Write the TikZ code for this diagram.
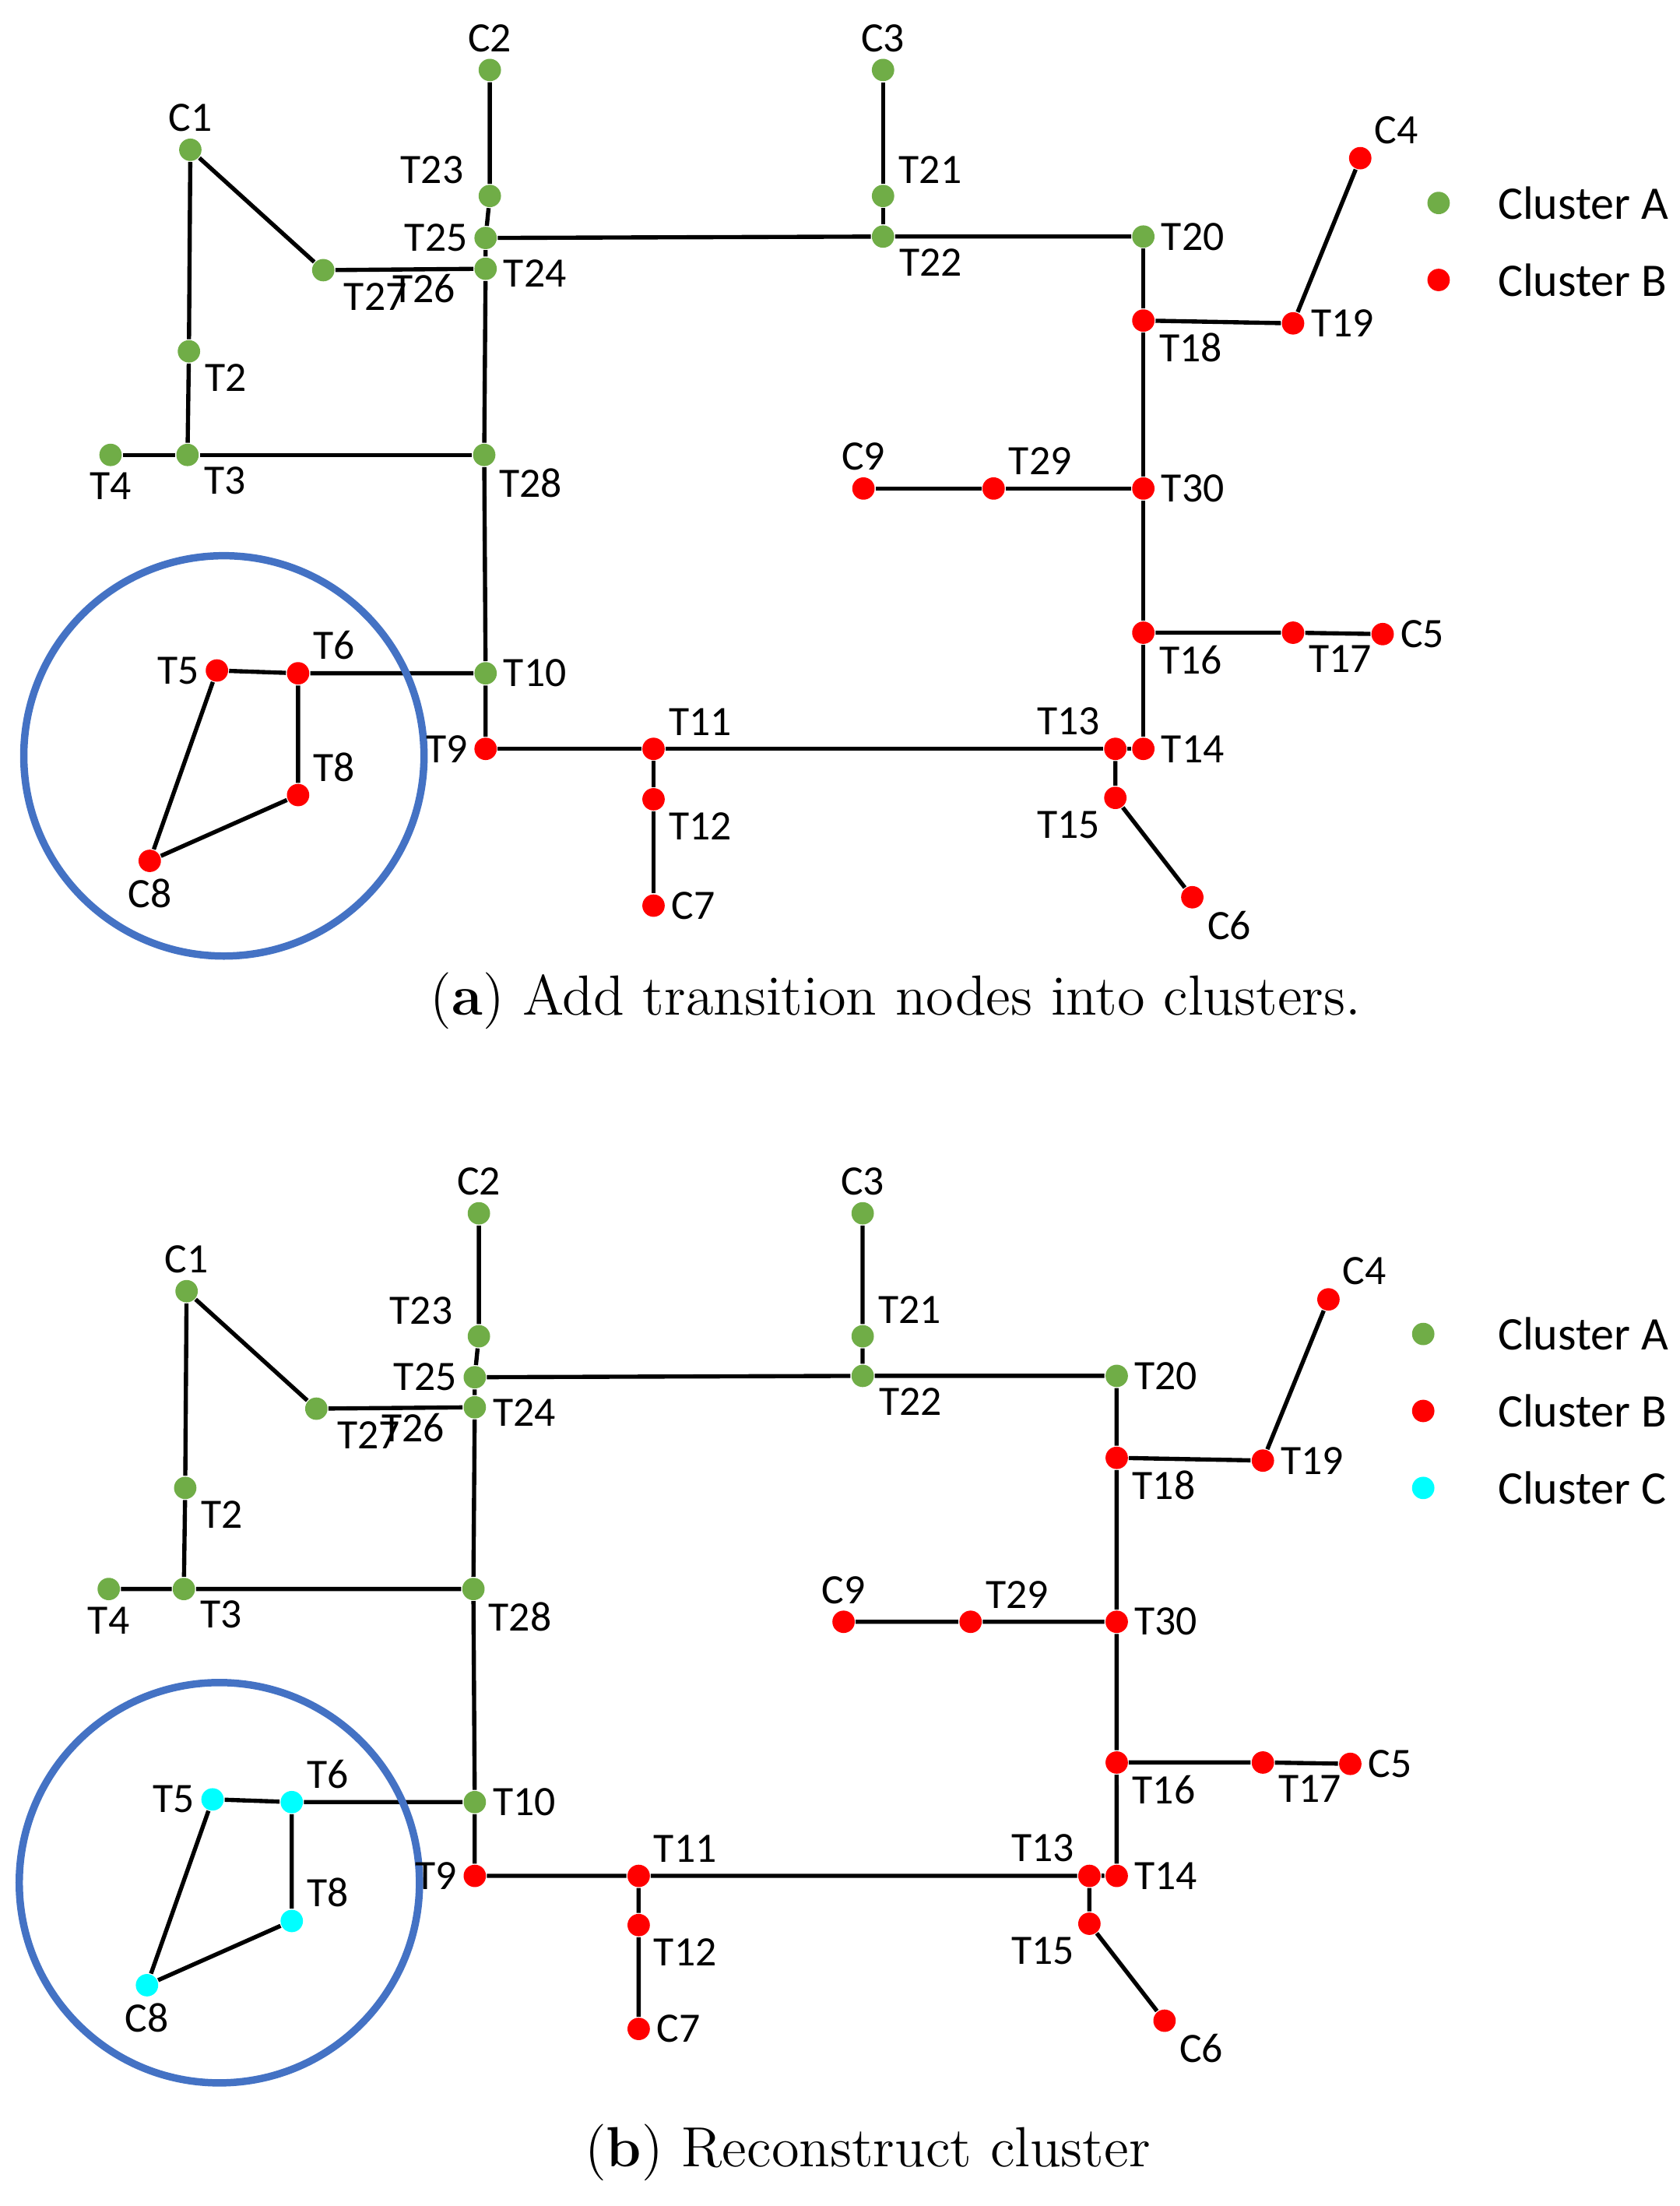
\documentclass[tikz,border=0pt]{standalone}
\usepackage{fontspec}
\newfontfamily\lblfont{Carlito}
\usetikzlibrary{backgrounds}
\definecolor{clA}{RGB}{112,173,71}
\definecolor{clB}{RGB}{255,0,0}
\definecolor{clC}{RGB}{0,255,255}
\definecolor{ringblue}{RGB}{68,114,196}
\tikzset{
  dot/.style={circle,inner sep=0pt,minimum size=0.16cm,fill=#1},
  edge/.style={line width=0.85pt,black},
  every label/.style={font=\lblfont\fontsize{8.5}{9}\selectfont,inner sep=1pt,label distance=0pt},
  captxt/.style={font=\fontsize{11.5}{13}\selectfont},
  ring/.style={draw=ringblue,line width=1.5pt},
  lgd/.style={font=\lblfont\fontsize{9.5}{10}\selectfont,anchor=west}
}
% #1 prefix, #2 colour of the circled group
\newcommand\drawpanel[2]{
  \node[ring,circle,minimum size=2.86cm,inner sep=0pt] (#1ring) at (1.60,-5.40) {};
  \node[dot=clA,label=above:C2] (#1C2) at (3.50,-0.50) {};
  \node[dot=clA,label={[xshift=-2pt]150:T23}] (#1T23) at (3.50,-1.40) {};
  \node[dot=clA,label=left:T25] (#1T25) at (3.47,-1.70) {};
  \node[dot=clA,label={[yshift=-1pt]right:T24}] (#1T24) at (3.47,-1.92) {};
  \coordinate[label={[xshift=-3pt]-125:T26}] (#1T26) at (3.40,-1.92);
  \node[dot=clA,label=above:C1] (#1C1) at (1.36,-1.07) {};
  \node[dot=clA,label={[xshift=1pt]-35:T27}] (#1T27) at (2.31,-1.93) {};
  \node[dot=clA,label=-35:T2] (#1T2) at (1.35,-2.51) {};
  \node[dot=clA,label=-30:T3] (#1T3) at (1.34,-3.25) {};
  \node[dot=clA,label=below:T4] (#1T4) at (0.79,-3.25) {};
  \node[dot=clA,label=-40:T28] (#1T28) at (3.46,-3.25) {};
  \node[dot=clA,label=right:T10] (#1T10) at (3.47,-4.81) {};
  \node[dot=clB,label=left:T9] (#1T9) at (3.47,-5.35) {};
  \node[dot=#2,label=left:T5] (#1T5) at (1.55,-4.79) {};
  \node[dot=#2,label=40:T6] (#1T6) at (2.13,-4.81) {};
  \node[dot=#2,label=40:T8] (#1T8) at (2.13,-5.68) {};
  \node[dot=#2,label=below:C8] (#1C8) at (1.07,-6.15) {};
  \node[dot=clB,label=40:T11] (#1T11) at (4.67,-5.35) {};
  \node[dot=clB,label=-40:T12] (#1T12) at (4.67,-5.71) {};
  \node[dot=clB,label=right:C7] (#1C7) at (4.67,-6.47) {};
  \node[dot=clB,label=140:T13] (#1T13) at (7.97,-5.35) {};
  \node[dot=clB,label=right:T14] (#1T14) at (8.17,-5.35) {};
  \node[dot=clB,label=-140:T15] (#1T15) at (7.97,-5.70) {};
  \node[dot=clB,label=-40:C6] (#1C6) at (8.52,-6.41) {};
  \node[dot=clA,label=above:C3] (#1C3) at (6.31,-0.50) {};
  \node[dot=clA,label=35:T21] (#1T21) at (6.31,-1.40) {};
  \node[dot=clA,label=-30:T22] (#1T22) at (6.31,-1.69) {};
  \node[dot=clA,label=right:T20] (#1T20) at (8.17,-1.69) {};
  \node[dot=clB,label=-35:T18] (#1T18) at (8.17,-2.29) {};
  \node[dot=clB,label=right:T19] (#1T19) at (9.24,-2.31) {};
  \node[dot=clB,label=45:C4] (#1C4) at (9.72,-1.13) {};
  \node[dot=clB,label=right:T30] (#1T30) at (8.17,-3.49) {};
  \node[dot=clB,label=40:T29] (#1T29) at (7.10,-3.49) {};
  \node[dot=clB,label=above:C9] (#1C9) at (6.17,-3.49) {};
  \node[dot=clB,label=-35:T16] (#1T16) at (8.17,-4.52) {};
  \node[dot=clB,label=-35:T17] (#1T17) at (9.24,-4.52) {};
  \node[dot=clB,label=right:C5] (#1C5) at (9.88,-4.53) {};
  \begin{scope}[on background layer]
  \draw[edge] (#1C2) -- (#1T23) -- (#1T25) -- (#1T24) -- (#1T28) -- (#1T10) -- (#1T9);
  \draw[edge] (#1T25) -- (#1T22) -- (#1T20);
  \draw[edge] (#1C3) -- (#1T21) -- (#1T22);
  \draw[edge] (#1C1) -- (#1T27) -- (#1T24);
  \draw[edge] (#1C1) -- (#1T2) -- (#1T3);
  \draw[edge] (#1T4) -- (#1T3) -- (#1T28);
  \draw[edge] (#1T10) -- (#1T6) -- (#1T5) -- (#1C8) -- (#1T8) -- (#1T6);
  \draw[edge] (#1T9) -- (#1T11) -- (#1T13) -- (#1T14);
  \draw[edge] (#1T11) -- (#1T12) -- (#1C7);
  \draw[edge] (#1T13) -- (#1T15) -- (#1C6);
  \draw[edge] (#1T20) -- (#1T18) -- (#1T30) -- (#1T16) -- (#1T14);
  \draw[edge] (#1T18) -- (#1T19) -- (#1C4);
  \draw[edge] (#1C9) -- (#1T29) -- (#1T30);
  \draw[edge] (#1T16) -- (#1T17) -- (#1C5);
  \end{scope}
}
\begin{document}
\begin{tikzpicture}
\useasboundingbox (0,0) rectangle (12,-15.76);
% panel (a)
\drawpanel{a}{clB}
\node[dot=clA] (la1) at (10.28,-1.45) {};
\node[lgd] (la1t) at (10.58,-1.45) {Cluster A};
\node[dot=clB] (la2) at (10.28,-2.00) {};
\node[lgd] (la2t) at (10.58,-2.00) {Cluster B};
\node[captxt] (capa) at (6.40,-7.15) {(\textbf{a}) Add transition nodes into clusters.};
% panel (b)
\begin{scope}[shift={(0.006,-8.18)},scale=0.976]
\drawpanel{b}{clC}
\end{scope}
\node[dot=clA] (lb1) at (10.17,-9.53) {};
\node[lgd] (lb1t) at (10.58,-9.53) {Cluster A};
\node[dot=clB] (lb2) at (10.17,-10.08) {};
\node[lgd] (lb2t) at (10.58,-10.08) {Cluster B};
\node[dot=clC] (lb3) at (10.17,-10.63) {};
\node[lgd] (lb3t) at (10.58,-10.63) {Cluster C};
\node[captxt] (capb) at (6.20,-15.38) {(\textbf{b}) Reconstruct cluster};
\end{tikzpicture}
\end{document}
